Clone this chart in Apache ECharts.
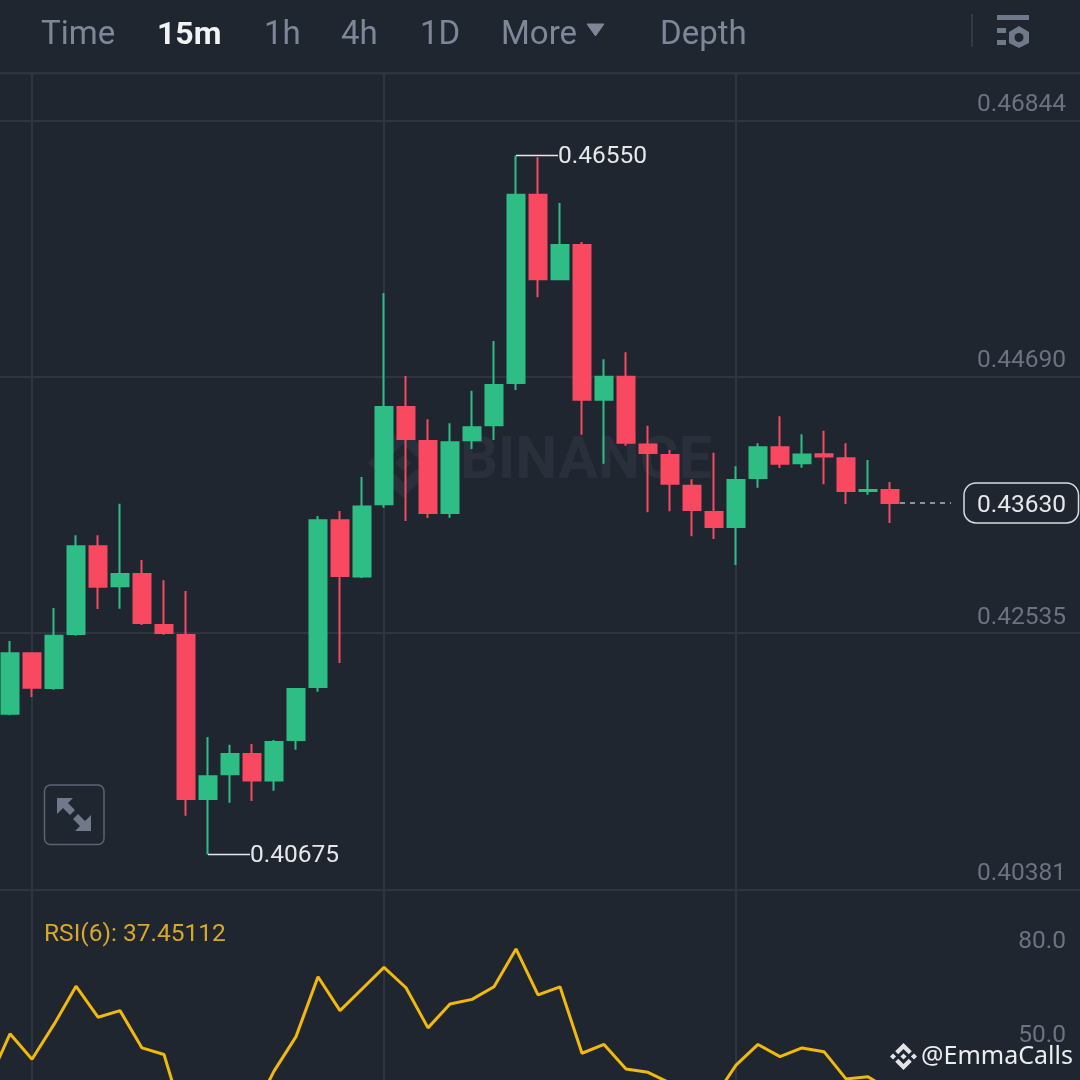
<!DOCTYPE html>
<html>
<head>
<meta charset="utf-8">
<title>15m RSI</title>
<style>
  html, body { margin: 0; padding: 0; background: #1f2630; }
  #chart { width: 1080px; height: 1080px; }
</style>
<script src="https://cdn.jsdelivr.net/npm/echarts@6/dist/echarts.min.js"></script>
</head>
<body>
<div id="chart"></div>
<script>
// 价格 K 线 (oldest first)
const opens = [0.41858, 0.42367, 0.42074, 0.42528, 0.43266, 0.42929, 0.43033, 0.42604, 0.42520, 0.41141, 0.41349, 0.41520, 0.41298, 0.41637, 0.42083, 0.43484, 0.43011, 0.43618, 0.44437, 0.44151, 0.43545, 0.44156, 0.44282, 0.44637, 0.46221, 0.45509, 0.45798, 0.44497, 0.44691, 0.44120, 0.44033, 0.43775, 0.43554, 0.43427, 0.43839, 0.44098, 0.43963, 0.44039, 0.44005, 0.43730, 0.43739];
const closes = [0.42367, 0.42077, 0.42514, 0.43266, 0.42925, 0.43033, 0.42620, 0.42536, 0.41141, 0.41333, 0.41520, 0.41298, 0.41621, 0.42067, 0.43484, 0.43015, 0.43599, 0.44437, 0.44167, 0.43545, 0.44140, 0.44266, 0.44621, 0.46221, 0.45509, 0.45798, 0.44497, 0.44691, 0.44136, 0.44049, 0.43791, 0.43570, 0.43427, 0.43823, 0.44098, 0.43959, 0.44036, 0.44021, 0.43730, 0.43739, 0.43630];
const lows = [0.41845, 0.41999, 0.42060, 0.42514, 0.42738, 0.42741, 0.42604, 0.42522, 0.41001, 0.40675, 0.41110, 0.41125, 0.41211, 0.41556, 0.42043, 0.42285, 0.43000, 0.43590, 0.43478, 0.43503, 0.43506, 0.44083, 0.44159, 0.44579, 0.45358, 0.45501, 0.44203, 0.43960, 0.44111, 0.43551, 0.43560, 0.43349, 0.43327, 0.43108, 0.43758, 0.43923, 0.43926, 0.43786, 0.43621, 0.43699, 0.43461];
const highs = [0.42470, 0.42375, 0.42747, 0.43358, 0.43358, 0.43623, 0.43150, 0.42980, 0.42890, 0.41663, 0.41598, 0.41604, 0.41637, 0.42075, 0.43520, 0.43562, 0.43848, 0.45394, 0.44697, 0.44333, 0.44299, 0.44573, 0.44991, 0.46550, 0.46535, 0.46151, 0.45823, 0.44837, 0.44896, 0.44279, 0.44075, 0.43828, 0.44052, 0.43938, 0.44131, 0.44358, 0.44207, 0.44237, 0.44131, 0.43991, 0.43806];

// RSI(6), first value belongs to the candle just left of the screen
const rsiValues = [39.8, 55.5, 47.4, 58.5, 70.7, 60.8, 62.9, 51.0, 48.9, 25.7, 18.4, 23.2, 29.6, 43.6, 54.6, 73.7, 62.9, 69.8, 76.7, 70.2, 57.4, 65.0, 66.5, 70.5, 82.6, 67.9, 70.5, 49.3, 52.1, 44.3, 43.2, 39.8, 36.0, 35.0, 45.5, 52.1, 48.2, 51.0, 49.8, 41.1, 41.8, 37.45];

const priceTicks = [0.40381, 0.42535, 0.44690, 0.46844];
const rsiTicks = [50, 80];
const rsiLabel = 'RSI(6): 37.45112';

// [slot, price] : slot counts the blank one at the left
const extremes = [[24, 0.46550], [10, 0.40675]];
const lastPrice = [[41, 0.43630]];

const toolbarItems = ['Time', '15m', '1h', '4h', '1D', 'More', 'Depth'];
const toolbarX = [41, 157, 264, 341, 420, 501, 660];

const COLOR = {
  bg: '#1f2630',
  grid: '#2e3440',
  up: '#2ebd85',
  down: '#f84960',
  axis: '#6b7280',
  menu: '#7d8797',
  text: '#e6e7e9',
  rsi: '#f0b90b',
  rsiText: '#d9a826',
  mark: '#2a303b',
};

const FONT = 'Roboto';

// Binance 菱形 logo, 126.61 见方
const LOGO_PARTS = [
  [[38.73, 53.2], [63.3, 28.63], [87.88, 53.21], [102.18, 38.91], [63.3, 0], [24.43, 38.9]],
  [[0, 63.31], [14.3, 49.01], [28.6, 63.31], [14.3, 77.61]],
  [[38.73, 73.41], [63.3, 97.98], [87.88, 73.4], [102.19, 87.69], [63.3, 126.61], [24.43, 87.73]],
  [[98.01, 63.31], [112.31, 49.01], [126.61, 63.31], [112.31, 77.61]],
  [[77.81, 63.3], [63.3, 48.78], [48.79, 63.28], [63.3, 77.8]],
];

function logoAt(x, y, size, fill, z) {
  const k = size / 126.61;
  return LOGO_PARTS.map((part) => ({
    type: 'polygon',
    shape: { points: part.map((p) => [x + p[0] * k, y + p[1] * k]) },
    style: { fill },
    z,
  }));
}

const slots = Array.from({ length: 51 }, (_, i) => i);
const candleData = [['-', '-', '-', '-']].concat(
  opens.map((o, i) => [o, closes[i], lows[i], highs[i]])
);

const chart = echarts.init(document.getElementById('chart'), null, { renderer: 'canvas' });

function xAxisFor(gridIndex) {
  return {
    type: 'category',
    gridIndex,
    data: slots,
    boundaryGap: false,
    axisLine: { show: false },
    axisTick: { show: false },
    axisLabel: { show: false },
    splitLine: {
      show: true,
      interval: (i) => i % 16 === 2,
      lineStyle: { color: COLOR.grid, width: 2 },
    },
  };
}

function yAxisFor(gridIndex, min, max, ticks, digits) {
  return {
    type: 'value',
    gridIndex,
    position: 'right',
    min,
    max,
    axisLine: { show: false },
    axisTick: { show: false, customValues: ticks },
    axisLabel: {
      inside: true,
      margin: 22,
      customValues: ticks,
      color: COLOR.axis,
      fontFamily: FONT,
      fontSize: 24.5,
      verticalAlign: 'bottom',
      padding: [0, 0, 3, 0],
      formatter: (v) => v.toFixed(digits),
    },
    splitLine: { show: gridIndex === 0, lineStyle: { color: COLOR.grid, width: 2 } },
  };
}

// 高低点引线
function renderExtreme(params, api) {
  const p = api.coord([api.value(0), api.value(1)]);
  return {
    type: 'group',
    children: [
      { type: 'line', shape: { x1: p[0], y1: p[1], x2: p[0] + 42, y2: p[1] }, style: { stroke: COLOR.text, lineWidth: 1.5 } },
      { type: 'text', style: { x: p[0] + 42, y: p[1] + 1, text: api.value(1).toFixed(5), fill: COLOR.text, font: '24.5px ' + FONT, verticalAlign: 'middle' } },
    ],
  };
}

// 最新价虚线 + 右侧框
function renderLast(params, api) {
  const p = api.coord([api.value(0), api.value(1)]);
  return {
    type: 'group',
    children: [
      { type: 'line', shape: { x1: p[0] + 10, y1: p[1], x2: 951, y2: p[1] }, style: { stroke: '#b4b7bc', lineWidth: 1.5, lineDash: [5, 5] } },
      { type: 'rect', shape: { x: 964, y: p[1] - 20, width: 114.5, height: 40, r: 12 }, style: { fill: COLOR.bg, stroke: '#d7d9dc', lineWidth: 1.5 } },
      { type: 'text', style: { x: 1021.5, y: p[1] + 3, text: api.value(1).toFixed(5), fill: COLOR.text, font: '24.5px ' + FONT, align: 'center', verticalAlign: 'middle' } },
    ],
  };
}

const menuText = toolbarItems.map((label, i) => ({
  type: 'text',
  x: toolbarX[i],
  y: 36,
  style: {
    text: label,
    fill: label === '15m' ? '#f2f3f5' : COLOR.menu,
    font: (label === '15m' ? 'bold 32px ' : '33px ') + FONT,
    verticalAlign: 'middle',
  },
}));

const chrome = [
  // 顶部分隔线
  { type: 'rect', shape: { x: 0, y: 72, width: 1080, height: 2.5 }, style: { fill: COLOR.grid } },
  // More 的小三角
  { type: 'polygon', shape: { points: [[587, 24], [604, 24], [595.5, 36]] }, style: { fill: COLOR.menu, lineJoin: 'round', stroke: COLOR.menu, lineWidth: 1 } },
  { type: 'rect', shape: { x: 971, y: 14, width: 2, height: 33 }, style: { fill: '#333a46' } },
  // 设置图标
  { type: 'rect', shape: { x: 997, y: 15, width: 32, height: 5 }, style: { fill: '#6f7989' } },
  { type: 'rect', shape: { x: 997, y: 28, width: 9, height: 5 }, style: { fill: '#6f7989' } },
  { type: 'rect', shape: { x: 997, y: 40, width: 9, height: 5 }, style: { fill: '#6f7989' } },
  { type: 'polygon', shape: { points: [[1019, 26], [1029, 32], [1029, 43], [1019, 48], [1009, 43], [1009, 32]] }, style: { fill: '#6f7989' } },
  { type: 'circle', shape: { cx: 1019, cy: 37.5, r: 4.5 }, style: { fill: COLOR.bg } },
  // 展开按钮
  { type: 'rect', shape: { x: 44.5, y: 785, width: 59.5, height: 59.5, r: 6 }, style: { fill: COLOR.bg, stroke: '#5c6472', lineWidth: 1.5 }, z: 5 },
  { type: 'polygon', shape: { points: [[57, 798], [73, 798], [68, 803], [75, 810], [70, 815], [63, 808], [57, 814]] }, style: { fill: '#6f7989' }, z: 6 },
  { type: 'polygon', shape: { points: [[91, 831], [75, 831], [80, 826], [73, 819], [78, 814], [85, 821], [91, 815]] }, style: { fill: '#6f7989' }, z: 6 },
  // BINANCE 水印, 在 K 线后面
  ...logoAt(368, 428, 70, COLOR.mark, 0),
  { type: 'text', x: 460, y: 463, style: { text: 'BINANCE', fill: COLOR.mark, font: 'bold 59.5px ' + FONT, verticalAlign: 'middle' }, z: 0 },
  // RSI 标题
  { type: 'text', x: 44, y: 935, style: { text: rsiLabel, fill: COLOR.rsiText, font: '24.5px ' + FONT, verticalAlign: 'middle' } },
  // 右下角账号
  ...logoAt(890, 1043, 27, '#e3e4e6', 20),
  { type: 'text', x: 921, y: 1057, style: { text: '@EmmaCalls', fill: '#eceded', font: '25px "Noto Sans"', verticalAlign: 'middle' }, z: 20 },
];

chart.setOption({
  backgroundColor: COLOR.bg,
  animation: false,
  grid: [
    { left: -12, top: 74, width: 1100, height: 815.5, outerBoundsMode: 'none' },
    { left: -12, top: 890, width: 1100, height: 317.7, outerBoundsMode: 'none' },
  ],
  xAxis: [xAxisFor(0), xAxisFor(1)],
  yAxis: [
    yAxisFor(0, 0.40381, 0.472348, priceTicks, 5),
    yAxisFor(1, 0, 101.4, rsiTicks, 1),
  ],
  series: [
    {
      type: 'candlestick',
      xAxisIndex: 0,
      yAxisIndex: 0,
      data: candleData,
      barWidth: 18,
      clip: false,
      itemStyle: {
        color: COLOR.up,
        color0: COLOR.down,
        borderColor: COLOR.up,
        borderColor0: COLOR.down,
        borderWidth: 2,
      },
    },
    {
      type: 'line',
      xAxisIndex: 1,
      yAxisIndex: 1,
      data: rsiValues,
      symbol: 'none',
      lineStyle: { color: COLOR.rsi, width: 3 },
      clip: true,
    },
    {
      type: 'custom',
      xAxisIndex: 0,
      yAxisIndex: 0,
      data: extremes,
      renderItem: renderExtreme,
      clip: false,
      z: 4,
    },
    {
      type: 'custom',
      xAxisIndex: 0,
      yAxisIndex: 0,
      data: lastPrice,
      renderItem: renderLast,
      clip: false,
      z: 4,
    },
  ],
  graphic: { elements: menuText.concat(chrome) },
});
</script>
</body>
</html>
